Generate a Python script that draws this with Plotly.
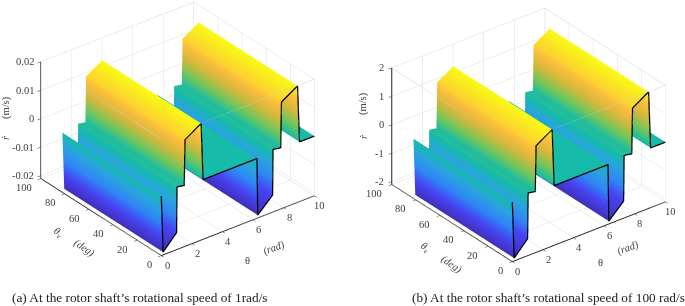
import math
import plotly.graph_objects as go

theta = [0, 0.12, 1.0, 1.03, 1.5, 1.55, 2.6, 2.73, 6.25, 6.3, 7.27, 7.3, 7.8, 7.85, 8.9, 9.03, 10]
theta_v = [0, 20, 40, 60, 82]
rdot_a = [0, -0.02, -0.015, 0.001, 0.0005, 0.0165, 0.02, 0, 0, -0.02, -0.015, 0.001, 0.0005, 0.0165, 0.02, 0, 0]
rdot_b = [0, -2, -1.5, 0.1, 0.05, 1.65, 2, 0, 0, -2, -1.5, 0.1, 0.05, 1.65, 2, 0, 0]
xticks = [0, 2, 4, 6, 8, 10]
yticks = [0, 20, 40, 60, 80, 100]
zticks_a = [-0.02, -0.01, 0, 0.01, 0.02]
zticklabels_a = ["-0.02", "-0.01", "0", "0.01", "0.02"]
zticks_b = [-2, -1, 0, 1, 2]
zticklabels_b = ["-2", "-1", "0", "1", "2"]
captions = ["(a) At the rotor shaft\u2019s rotational speed of 1rad/s",
            "(b) At the rotor shaft\u2019s rotational speed of 100 rad/s"]

parula = [[0, "#4030b8"], [0.125, "#4743f3"], [0.25, "#2f85f5"], [0.375, "#2aa3e0"], [0.5, "#15bba8"],
          [0.625, "#6fc75c"], [0.75, "#d2b83c"], [0.875, "#fdbe3d"], [1, "#f9fb15"]]

FONT = "Liberation Serif"
TXT = "#404040"
TICK_SIZE = 10.5
phi = math.radians(52)
el = math.radians(30)
R = 1.6
PX = 152.0


def tick_note(x, y, z, text, xanchor, xshift, yshift):
    return dict(x=x, y=y, z=z, text=str(text), showarrow=False, xanchor=xanchor, yanchor="middle",
                xshift=xshift, yshift=yshift, font=dict(family=FONT, size=TICK_SIZE, color=TXT))


def scene(domain, zticks, zlabels, zrange, sx, sy):
    ax = dict(showbackground=False, gridcolor="#dcdcdc", gridwidth=1, showline=True, linecolor="#222222",
              linewidth=2, zeroline=False, showspikes=False, ticks="outside", ticklen=4, tickcolor="#222222",
              showticklabels=False, title=dict(text=""))
    right = (math.sin(phi), -math.cos(phi), 0)
    up = (math.cos(phi) * math.sin(el), math.sin(phi) * math.sin(el), math.cos(el))
    c = [-(sx / PX) * right[i] - (sy / PX) * up[i] for i in range(3)]
    d = (-math.cos(phi) * math.cos(el), -math.sin(phi) * math.cos(el), math.sin(el))
    labels = [tick_note(v, 0, zrange[0], v, "center", 6, -10) for v in xticks]
    labels += [tick_note(0, v, zrange[0], v, "right", -7, -9) for v in yticks]
    labels += [tick_note(0, 100, v, t, "right", -5, 0) for v, t in zip(zticks, zlabels)]
    return dict(
        domain=dict(x=domain[0], y=domain[1]),
        xaxis=dict(ax, range=[0, 10], tickvals=xticks),
        yaxis=dict(ax, range=[0, 100], tickvals=yticks),
        zaxis=dict(ax, range=zrange, tickvals=zticks),
        aspectmode="manual", aspectratio=dict(x=1.27, y=1.28, z=0.88),
        annotations=labels,
        camera=dict(projection=dict(type="orthographic"),
                    up=dict(x=0, y=0, z=1),
                    center=dict(x=c[0], y=c[1], z=c[2]),
                    eye=dict(x=c[0] + R * d[0], y=c[1] + R * d[1], z=c[2] + R * d[2])),
    )


fig = go.Figure()
for name, z, zr, c in [("scene", rdot_a, [-0.021, 0.02], 0.02), ("scene2", rdot_b, [-2.1, 2], 2)]:
    fig.add_trace(go.Surface(x=theta, y=theta_v, z=[z for _ in theta_v], scene=name, colorscale=parula,
                             cmin=-c, cmax=c, showscale=False,
                             lighting=dict(ambient=1, diffuse=0, specular=0, fresnel=0, roughness=1)))
    fig.add_trace(go.Scatter3d(x=theta, y=[theta_v[0]] * len(theta), z=z, scene=name, mode="lines",
                               line=dict(color="black", width=2.5), showlegend=False))
    # light upper box edges, from the axis ranges
    bx = [0, 10, 10, 0, 0, None, 10, 10, None, 0, 0]
    by = [100, 100, 0, 0, 100, None, 100, 100, None, 100, 100]
    bz = [zr[1], zr[1], zr[1], zr[1], zr[1], None, zr[0], zr[1], None, zr[0], zr[1]]
    fig.add_trace(go.Scatter3d(x=bx, y=by, z=bz, scene=name, mode="lines",
                               line=dict(color="#d0d0d0", width=1), showlegend=False))

fig.update_layout(
    width=685, height=306, margin=dict(l=0, r=0, t=0, b=0), paper_bgcolor="white", showlegend=False,
    scene=scene(([0, 0.5], [0, 1]), zticks_a, zticklabels_a, [-0.021, 0.02], 6, 24),
    scene2=scene(([0.5, 1], [0, 1]), zticks_b, zticklabels_b, [-2.1, 2], 14, 18),
)


def note(text, px, py, angle=0, size=10.5, color=TXT):
    fig.add_annotation(text=text, x=px / 685, y=1 - py / 306, xref="paper", yref="paper", showarrow=False,
                       textangle=angle, font=dict(family=FONT, size=size, color=color), xanchor="center",
                       yanchor="middle")


note(captions[0], 140, 297, size=13.3, color="#222222")
note(captions[1], 548, 297, size=13.3, color="#222222")
note("<i>\u1e59</i>", 6, 138, -90)
note("(m/s)", 6, 108, -90)
note("<i>\u03b8<sub>v</sub></i>", 58, 232, 35)
note("<i>(deg)</i>", 84, 248, 35)
note("\u03b8", 247, 260)
note("<i>(rad)</i>", 274, 248, -20)
note("<i>\u1e59</i>", 363, 137, -90)
note("(m/s)", 363, 104, -90)
note("<i>\u03b8<sub>v</sub></i>", 425, 247, 35)
note("<i>(deg)</i>", 452, 265, 35)
note("\u03b8", 600, 262)
note("<i>(rad)</i>", 628, 248, -20)

fig.write_html("out.html", config=dict(displayModeBar=False), post_script="document.body.style.margin='0';")
